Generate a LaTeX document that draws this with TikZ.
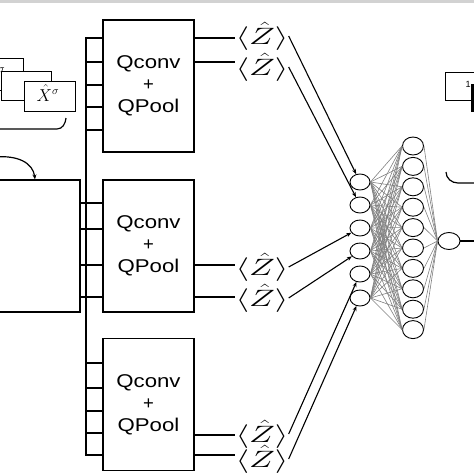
\documentclass[tikz,border=0pt]{standalone}
\usepackage{amssymb}
\usepackage{amsmath}
\usepackage{fontspec}
\setmainfont{Liberation Sans}
\usepackage{tikz}
\usetikzlibrary{shapes.geometric,arrows.meta}

\newcommand{\qcbody}{\scalebox{1.2}[1]{Qconv}\\+\\\scalebox{1.2}[1]{QPool}}
\newcommand{\zexp}{\scalebox{1.4}[0.95]{$\langle\hat{Z}\rangle$}}

\begin{document}
\begin{tikzpicture}[x=1pt,y=-1pt,
    blk/.style={draw, line width=1.2pt, minimum width=91pt, minimum height=132pt, inner sep=0pt, align=center, font=\fontsize{18.5}{22}\selectfont},
    frm/.style={draw, fill=white, line width=1pt, inner sep=0pt, font=\fontsize{16}{18}\selectfont},
    zlbl/.style={inner sep=0pt, font=\fontsize{25}{28}\selectfont},
    neuron/.style={ellipse, draw, line width=0.9pt, minimum width=20pt, minimum height=16pt, inner sep=0pt},
    wire/.style={line width=1.2pt},
    syn/.style={gray, line width=0.6pt}]
    \useasboundingbox (0,0) rectangle (474,474);
    \clip (0,0) rectangle (474,474);
    \fill[gray!35] (0,0) rectangle (474,2.5);

    \node[frm, minimum width=53pt, minimum height=32pt] (xa) at (-3.5,74) {};
    \node[font=\fontsize{16}{18}\selectfont] (xalbl) at (-6,71) {$\hat{X}^{\sigma}$};
    \node[frm, minimum width=50pt, minimum height=29pt] (xb) at (26,85.5) {};
    \node[frm, minimum width=51pt, minimum height=30pt] (xc) at (49.5,96) {};
    \node[font=\fontsize{16}{18}\selectfont] (xclbl) at (48,93) {$\hat{X}^{\sigma}$};
    \draw[wire] (-5,129) -- (57,129) to[out=0,in=-95] (66,118);

    \node[draw, line width=1.2pt, minimum width=95pt, minimum height=132pt] (img) at (32.5,246) {};
    \coordinate (cin) at (-5,157);
    \draw[wire, -{Stealth[length=5pt,width=4pt]}] (cin) .. controls (18,155) and (33,163) .. (img.north -| 35,0);

    \node[blk] (qc1) at (148.5,86) {\qcbody};
    \node[blk] (qc2) at (148.5,246) {\qcbody};
    \node[blk] (qc3) at (148.5,404.5) {\qcbody};

    \coordinate (bustop) at (86,38);
    \coordinate (busbot) at (86,455);
    \draw[wire] (qc1.west |- bustop) -- (bustop) -- (busbot) -- (qc3.west |- busbot);
    \foreach \y in {62,85,107,130} \draw[wire] (86,\y) -- (qc1.west |- 0,\y);
    \foreach \y in {203,229,265,297} \draw[wire] (img.east |- 0,\y) -- (qc2.west |- 0,\y);
    \foreach \y in {363,388,411,433} \draw[wire] (86,\y) -- (qc3.west |- 0,\y);

    \node[zlbl] (z11) at (262,36) {\zexp};
    \node[zlbl] (z12) at (262,67) {\zexp};
    \node[zlbl] (z21) at (262,267) {\zexp};
    \node[zlbl] (z22) at (262,298) {\zexp};
    \node[zlbl] (z31) at (262,434) {\zexp};
    \node[zlbl] (z32) at (262,459) {\zexp};
    \draw[wire] (qc1.east |- 0,38) -- (z11.west |- 0,38);
    \draw[wire] (qc1.east |- 0,62) -- (z12.west |- 0,62);
    \draw[wire] (qc2.east |- 0,265) -- (z21.west |- 0,265);
    \draw[wire] (qc2.east |- 0,297) -- (z22.west |- 0,297);
    \draw[wire] (qc3.east |- 0,435) -- (z31.west |- 0,435);
    \draw[wire] (qc3.east |- 0,455) -- (z32.west |- 0,455);

    \foreach \y [count=\i] in {182,205,228,251,274,298} \node[neuron] (in\i) at (360,\y) {};
    \foreach \i in {1,...,10} \node[neuron, minimum width=21pt, minimum height=18pt] (hd\i) at (413,{146+20.4*(\i-1)}) {};
    \node[neuron, minimum width=22pt, minimum height=17pt] (out) at (449,241) {};
    \foreach \i in {1,...,6} \foreach \j in {1,...,10} \draw[syn] (in\i.east) -- (hd\j.west);
    \foreach \j in {1,...,10} \draw[syn] (hd\j.east) -- (out.west);
    \coordinate (outend) at (480,241);
    \draw[wire] (out) -- (outend);

    \draw[line width=1.1pt, -{Stealth[length=5pt,width=4pt]}] (z11.east) -- (in1);
    \draw[line width=1.1pt, -{Stealth[length=5pt,width=4pt]}] (z12.east) -- (in2);
    \draw[line width=1.1pt, -{Stealth[length=5pt,width=4pt]}] (z21.east) -- (in3);
    \draw[line width=1.1pt, -{Stealth[length=5pt,width=4pt]}] (z22.east) -- (in4);
    \draw[line width=1.1pt, -{Stealth[length=5pt,width=4pt]}] (z31.east) -- (in5);
    \draw[line width=1.1pt, -{Stealth[length=5pt,width=4pt]}] (z32.east) -- (in6);

    \node[frm, minimum width=50pt, minimum height=28pt] (res) at (470,86) {};
    \node[font=\fontsize{9}{10}\selectfont] (one) at (468,84) {1};
    \draw[line width=2.5pt] (472.5,84) -- (472.5,112);
    \draw[wire] (446,172) to[out=-90,in=180] (458,183) -- (480,183);
\end{tikzpicture}
\end{document}
